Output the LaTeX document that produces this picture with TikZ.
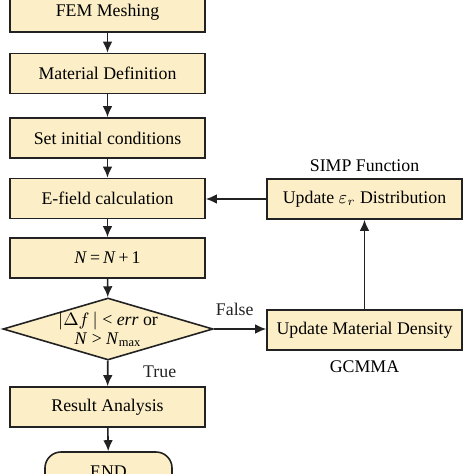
\documentclass[tikz,border=0pt]{standalone}
\usepackage{fontspec}
\setmainfont{Liberation Serif}
\usetikzlibrary{positioning, arrows.meta, calc, shapes.geometric}
\definecolor{boxFill}{HTML}{FCEFC8}
\definecolor{lineGray}{HTML}{222222}

\begin{document}
\begin{tikzpicture}[x=0.5pt, y=-0.5pt,
  box/.style={draw=lineGray, line width=0.8pt, fill=boxFill,
              minimum width=97.5pt, minimum height=20pt,
              font=\fontsize{8.9}{10.5}\selectfont, align=center, inner sep=1pt},
  decision/.style={draw=lineGray, line width=0.8pt, fill=boxFill, diamond,
                   minimum width=105pt, minimum height=31pt, inner sep=0pt},
  terminal/.style={box, rounded corners=8pt, minimum width=63.5pt},
  note/.style={font=\fontsize{8.9}{10.5}\selectfont},
  arr/.style={-{Latex[length=5.5pt, width=4.8pt]}, line width=0.8pt, lineGray}
]
\clip (0,0) rectangle (474,474);

% main loop
\node[box] (fem) at (107.5,12) {FEM Meshing};
\node[box] (mat) at (107.5,73.5) {Material Definition};
\node[box] (init) at (107.5,138) {Set initial conditions};
\node[box] (efield) at (107.5,198.5) {E-field calculation};
\node[box] (count) at (107.5,258) {\textit{N}\,=\,\textit{N}\,+\,1};
\node[decision, label={[note, align=center]center:$|\Delta f\,|$ < \textit{err} or\\[-1pt]\textit{N} > \textit{N}\textsubscript{max}}] (check) at (108,329) {};
\node[box] (result) at (107.5,407) {Result Analysis};
\node[terminal] (fin) at (108.5,472) {END};

% update branch
\node[box] (upeps) at (364.5,199) {Update $\varepsilon_r$ Distribution};
\node[box] (updens) at (364.5,330) {Update Material Density};
\node[note] (simp) at (364.5,166) {SIMP Function};
\node[note] (gcmma) at (364.5,367) {GCMMA};

\draw[arr] (fem) -- (mat);
\draw[arr] (mat) -- (init);
\draw[arr] (init) -- (efield);
\draw[arr] (efield) -- (count);
\draw[arr] (count) -- (check);
\draw[arr] (check) -- node[note, right=14pt, pos=0.45] {True} (result);
\draw[arr] (result) -- (fin);
\draw[arr] (check.east) -- node[note, above=3pt, pos=0.4] {False} (check.east -| updens.west);
\draw[arr] (updens) -- (upeps);
\draw[arr] (upeps.west) -- (upeps.west -| efield.east);
\end{tikzpicture}
\end{document}
